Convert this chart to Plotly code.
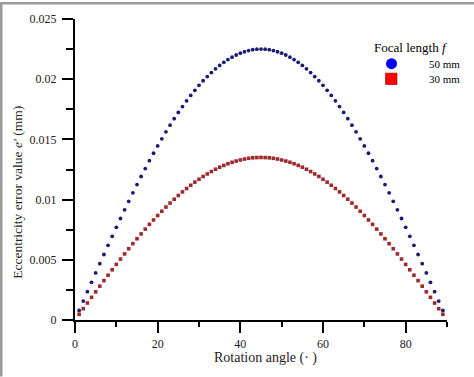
import plotly.graph_objects as go

# Rotation angle (degrees)
angle = list(range(1, 90))

# Eccentricity error e' (mm), focal length 50 mm
err_50mm = [
    0.00079, 0.00157, 0.00235, 0.00313, 0.00391, 0.00468, 0.00544, 0.00620, 0.00695, 0.00770,
    0.00843, 0.00915, 0.00986, 0.01056, 0.01125, 0.01192, 0.01258, 0.01323, 0.01385, 0.01446,
    0.01505, 0.01563, 0.01618, 0.01672, 0.01724, 0.01773, 0.01820, 0.01865, 0.01908, 0.01949,
    0.01987, 0.02022, 0.02055, 0.02086, 0.02114, 0.02140, 0.02163, 0.02183, 0.02201, 0.02216,
    0.02228, 0.02238, 0.02245, 0.02249, 0.02250,
    0.02249, 0.02245, 0.02238, 0.02228, 0.02216, 0.02201, 0.02183, 0.02163, 0.02140, 0.02114,
    0.02086, 0.02055, 0.02022, 0.01987, 0.01949, 0.01908, 0.01865, 0.01820, 0.01773, 0.01724,
    0.01672, 0.01618, 0.01563, 0.01505, 0.01446, 0.01385, 0.01323, 0.01258, 0.01192, 0.01125,
    0.01056, 0.00986, 0.00915, 0.00843, 0.00770, 0.00695, 0.00620, 0.00544, 0.00468, 0.00391,
    0.00313, 0.00235, 0.00157, 0.00079,
]

# Eccentricity error e' (mm), focal length 30 mm
err_30mm = [
    0.00047, 0.00094, 0.00141, 0.00188, 0.00234, 0.00281, 0.00327, 0.00372, 0.00417, 0.00462,
    0.00506, 0.00549, 0.00592, 0.00634, 0.00675, 0.00715, 0.00755, 0.00794, 0.00831, 0.00868,
    0.00903, 0.00938, 0.00971, 0.01003, 0.01034, 0.01064, 0.01092, 0.01119, 0.01145, 0.01169,
    0.01192, 0.01213, 0.01233, 0.01252, 0.01269, 0.01284, 0.01298, 0.01310, 0.01320, 0.01329,
    0.01337, 0.01343, 0.01347, 0.01349, 0.01350,
    0.01349, 0.01347, 0.01343, 0.01337, 0.01329, 0.01320, 0.01310, 0.01298, 0.01284, 0.01269,
    0.01252, 0.01233, 0.01213, 0.01192, 0.01169, 0.01145, 0.01119, 0.01092, 0.01064, 0.01034,
    0.01003, 0.00971, 0.00938, 0.00903, 0.00868, 0.00831, 0.00794, 0.00755, 0.00715, 0.00675,
    0.00634, 0.00592, 0.00549, 0.00506, 0.00462, 0.00417, 0.00372, 0.00327, 0.00281, 0.00234,
    0.00188, 0.00141, 0.00094, 0.00047,
]

series_names = ["50 mm", "30 mm"]
x_ticks = [0, 20, 40, 60, 80]
y_ticks = [0, 0.005, 0.01, 0.015, 0.02, 0.025]
y_tick_labels = ["0", "0.005", "0.01", "0.015", "0.02", "0.025"]

FONT = "Liberation Serif"
W, H = 474, 377
L, R, T, B = 75, 27, 17, 57
PW, PH = W - L - R, H - T - B


def px(p):
    return (p - L) / PW


def py(p):
    return (H - B - p) / PH


fig = go.Figure()
fig.add_trace(go.Scatter(
    x=angle, y=err_50mm, mode="markers", name=series_names[0], showlegend=False,
    marker=dict(symbol="circle", size=3.8, color="#1a1a78", line=dict(width=0)),
))
fig.add_trace(go.Scatter(
    x=angle, y=err_30mm, mode="markers", name=series_names[1], showlegend=False,
    marker=dict(symbol="square", size=3.6, color="#9e2a2f", line=dict(width=0)),
))

axis_common = dict(
    showline=True, linecolor="black", linewidth=2, showgrid=False, zeroline=False,
    ticks="outside", tickcolor="black", tickwidth=2, ticklen=11,
    tickfont=dict(family=FONT, size=12, color="#222222"),
    mirror=False,
)

fig.update_xaxes(
    range=[0, 90], tickvals=x_ticks, ticktext=[str(v) for v in x_ticks],
    minor=dict(dtick=10, tick0=0, ticks="outside", ticklen=5, tickwidth=2, tickcolor="black"),
    ticklabelstandoff=1,
    **axis_common,
)
fig.update_yaxes(
    range=[0, 0.025], tickvals=y_ticks, ticktext=y_tick_labels,
    minor=dict(dtick=0.0025, tick0=0, ticks="outside", ticklen=7, tickwidth=2, tickcolor="black"),
    ticklabelstandoff=3,
    **axis_common,
)

shapes = [
    # left and top grey frame
    dict(type="rect", xref="paper", yref="paper", x0=px(0), x1=px(2.5), y0=py(H), y1=py(0),
         fillcolor="#9a9a9a", line=dict(width=0), layer="above"),
    dict(type="rect", xref="paper", yref="paper", x0=px(0), x1=px(W), y0=py(2.5), y1=py(0),
         fillcolor="#9a9a9a", line=dict(width=0), layer="above"),
    # legend symbols
    dict(type="circle", xref="paper", yref="paper", x0=px(386), x1=px(397), y0=py(67.5), y1=py(56.5),
         fillcolor="#0000ff", line=dict(width=0)),
    dict(type="rect", xref="paper", yref="paper", x0=px(385.5), x1=px(397), y0=py(83), y1=py(71.5),
         fillcolor="#ff0000", line=dict(width=0.6, color="#880000")),
]

annotations = [
    # axis titles
    dict(text="Rotation angle (\u00b7 )", x=px(265), y=py(358), xref="paper", yref="paper",
         showarrow=False, font=dict(family=FONT, size=14, color="#222222"),
         xanchor="center", yanchor="middle"),
    dict(text="Eccentricity error value <i>e'</i> (mm)", x=px(18), y=py(192), xref="paper", yref="paper",
         showarrow=False, textangle=-90, font=dict(family=FONT, size=13.5, color="#222222"),
         xanchor="center", yanchor="middle"),
    # legend
    dict(text="Focal length <i>f</i>", x=px(411), y=py(46), xref="paper", yref="paper",
         showarrow=False, font=dict(family=FONT, size=13, color="black"), xanchor="center", yanchor="middle"),
    dict(text=series_names[0], x=px(427), y=py(62.5), xref="paper", yref="paper",
         showarrow=False, font=dict(family=FONT, size=11, color="black"), xanchor="left", yanchor="middle"),
    dict(text=series_names[1], x=px(427), y=py(77.5), xref="paper", yref="paper",
         showarrow=False, font=dict(family=FONT, size=11, color="black"), xanchor="left", yanchor="middle"),
]

fig.update_layout(
    width=W, height=H,
    margin=dict(l=L, r=R, t=T, b=B),
    paper_bgcolor="white", plot_bgcolor="white",
    showlegend=False,
    shapes=shapes, annotations=annotations,
    font=dict(family=FONT),
)

fig.write_html(
    "out.html",
    config={"displayModeBar": False},
    post_script="document.body.style.margin='0';document.body.style.overflow='hidden';",
)
